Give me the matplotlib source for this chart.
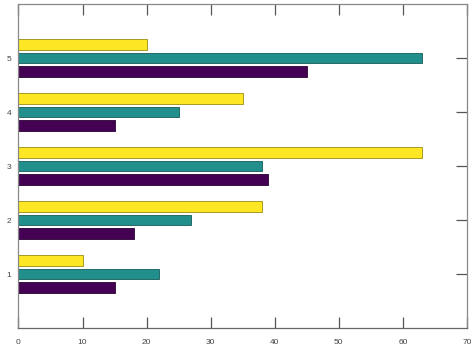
import matplotlib
matplotlib.use("Agg")
import matplotlib.pyplot as plt
import numpy as np

categories = [1, 2, 3, 4, 5]
series_purple = [15, 18, 39, 15, 45]
series_teal = [22, 27, 38, 25, 63]
series_yellow = [10, 38, 63, 35, 20]
x_ticks = [0, 10, 20, 30, 40, 50, 60, 70]

plt.rcParams['font.family'] = ['Liberation Sans', 'DejaVu Sans']

fig = plt.figure(figsize=(4.74, 3.51), dpi=100)
ax = fig.add_axes([0.039, 0.0655, 0.946, 0.9231])

y = np.array(categories, dtype=float)
h = 0.2
off = 0.245
ax.barh(y - off, series_purple, height=h, color='#440154', edgecolor='#2a0033', linewidth=0.6)
ax.barh(y, series_teal, height=h, color='#21908d', edgecolor='#145a58', linewidth=0.6)
ax.barh(y + off, series_yellow, height=h, color='#fde725', edgecolor='#9a8c10', linewidth=0.6)

ax.set_xlim(0, 70)
ax.set_ylim(0, 6)
ax.set_xticks(x_ticks)
ax.set_yticks(categories)
ax.set_axisbelow(True)
ax.tick_params(axis='both', direction='in', length=8, width=0.9, color='#555555',
               labelsize=6, labelcolor='#444444', top=True, right=True)
ax.tick_params(axis='x', pad=8)
ax.tick_params(axis='y', pad=5)
for s in ax.spines.values():
    s.set_color('#888888')
    s.set_linewidth(0.9)
ax.spines['bottom'].set_color('#666666')

fig.savefig('out.png', dpi=100)
